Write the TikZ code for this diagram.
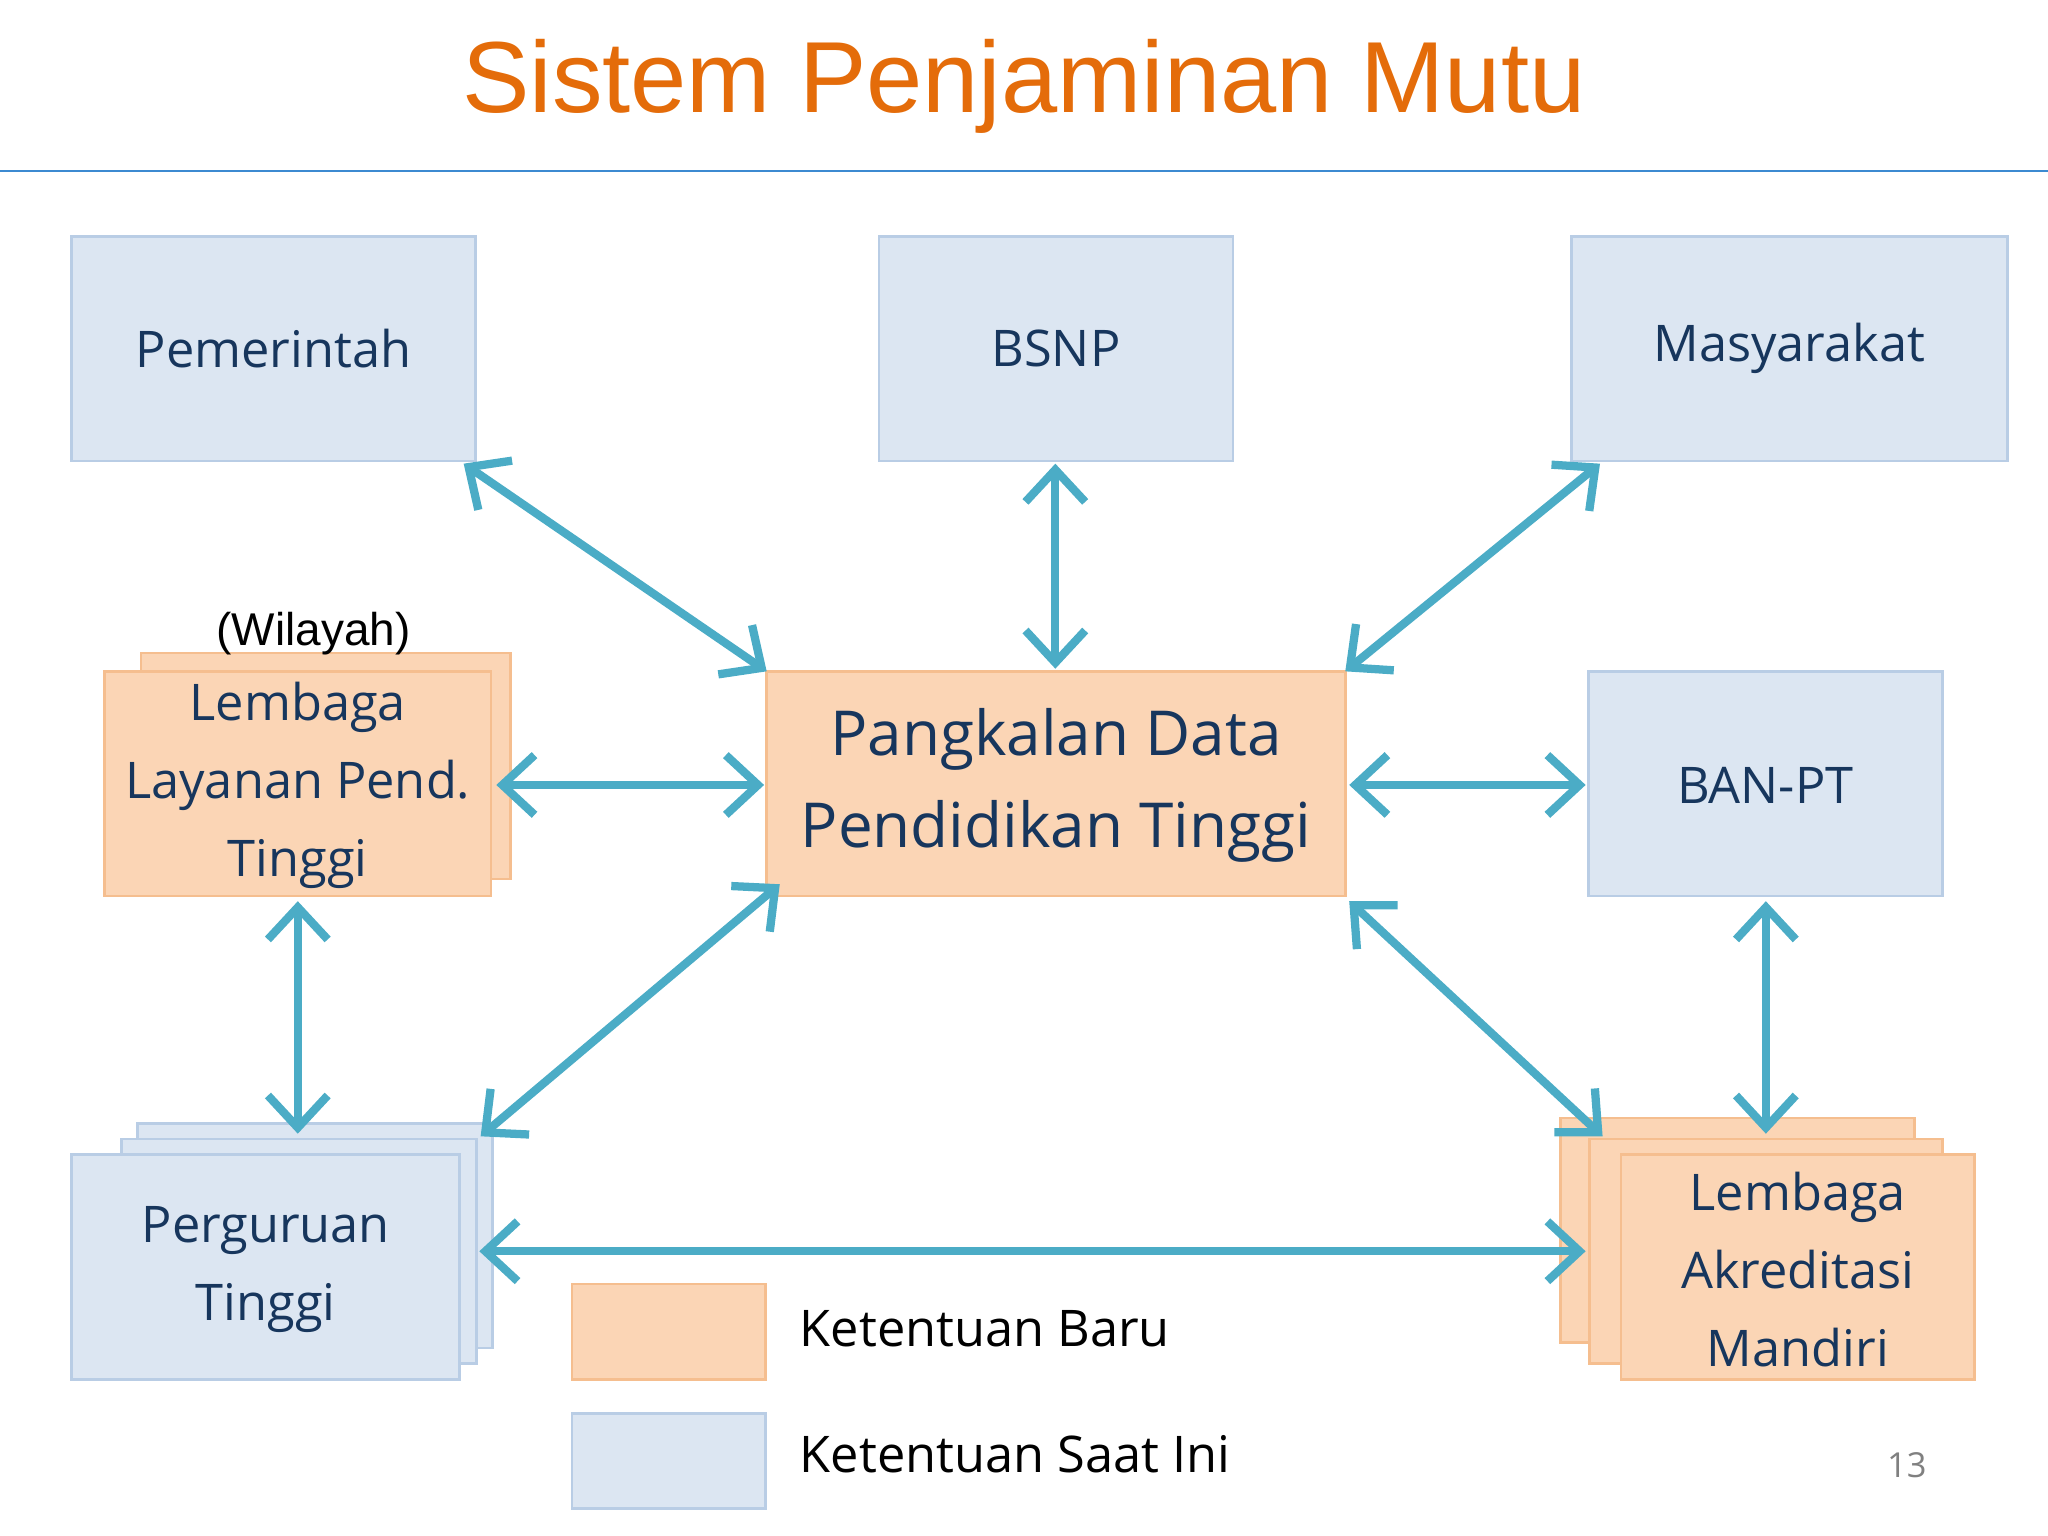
\documentclass[tikz,border=0pt]{standalone}
\usepackage{fontspec}
\setmainfont{Open Sans}
\newfontfamily\titlefont{Liberation Sans}
\usetikzlibrary{arrows.meta}
\definecolor{bfill}{HTML}{DCE6F2}
\definecolor{bdraw}{HTML}{B9CDE5}
\definecolor{ofill}{HTML}{FBD5B5}
\definecolor{odraw}{HTML}{F5BE8F}
\definecolor{arr}{HTML}{4BACC6}
\definecolor{ttl}{HTML}{E46C0A}
\definecolor{txt}{HTML}{17365D}
\tikzset{
  bbox/.style={draw=bdraw,fill=bfill,line width=0.6pt},
  obox/.style={draw=odraw,fill=ofill,line width=0.6pt},
  lbl/.style={text=txt,align=center,font=\fontsize{11}{17}\selectfont},
  conn/.style={draw=arr,line width=1.8pt,{Straight Barb[length=7pt,width=13pt,line width=1.8pt]}-{Straight Barb[length=7pt,width=13pt,line width=1.8pt]}}
}
\begin{document}
\begin{tikzpicture}[x=0.01cm,y=-0.01cm]
\useasboundingbox (0,0) rectangle (1568,1176);
\node[text=ttl,font=\titlefont\fontsize{22}{26}\selectfont] (title) at (784,66) {Sistem Penjaminan Mutu};
\draw[color=arr!80!blue,line width=0.6pt] (0,131) -- (1568,131);
% top
\draw[bbox] (55,181) rectangle (364,353); \node[lbl] (pem) at (209.5,267) {Pemerintah};
\draw[bbox] (673,181) rectangle (944,353); \node[lbl] (bsnp) at (808.5,267) {BSNP};
\draw[bbox] (1203,181) rectangle (1537,353); \node[lbl] (mas) at (1370,267) {Masyarakat};
% middle
\draw[obox] (108,500) rectangle (391,673);
\draw[obox] (80,514) rectangle (376,686);
\node[lbl] (llp) at (228,601) {Lembaga\\Layanan Pend.\\Tinggi};
\node[font=\titlefont\fontsize{10}{12}\selectfont] (wil) at (240,485) {(Wilayah)};
\draw[obox] (587,514) rectangle (1030,686);
\node[lbl,font=\fontsize{13.5}{20}\selectfont] (pd) at (808.5,601) {Pangkalan Data\\Pendidikan Tinggi};
\draw[bbox] (1216,514) rectangle (1487,686); \node[lbl] (ban) at (1351.5,601) {BAN-PT};
% bottom
\draw[bbox] (105,860) rectangle (377,1032);
\draw[bbox] (93,872) rectangle (365,1044);
\draw[bbox] (55,884) rectangle (352,1056);
\node[lbl] (pt) at (203.5,972) {Perguruan\\Tinggi};
\draw[obox] (1195,856) rectangle (1466,1028);
\draw[obox] (1217,872) rectangle (1487,1044);
\draw[obox] (1241,884) rectangle (1512,1056);
\node[lbl] (lam) at (1376.5,972) {Lembaga\\Akreditasi\\Mandiri};
% legend
\draw[obox] (438,983) rectangle (586,1056);
\node[lbl,anchor=west,text=black] (lg1) at (600,1017) {Ketentuan Baru};
\draw[bbox] (438,1082) rectangle (586,1155);
\node[lbl,anchor=west,text=black] (lg2) at (600,1113) {Ketentuan Saat Ini};
\node[text=gray,font=\fontsize{7.5}{9}\selectfont] (pg) at (1460,1122) {13};
% connector ends
\coordinate (a1) at (587,514); \coordinate (a2) at (355,355);
\coordinate (b1) at (808,512); \coordinate (b2) at (808,355);
\coordinate (c1) at (1030,514); \coordinate (c2) at (1225,355);
\coordinate (d1) at (380,601); \coordinate (d2) at (585,601);
\coordinate (e1) at (1033,601); \coordinate (e2) at (1214,601);
\coordinate (f1) at (228,690); \coordinate (f2) at (228,868);
\coordinate (g1) at (597,677); \coordinate (g2) at (368,870);
\coordinate (h1) at (1033,690); \coordinate (h2) at (1227,870);
\coordinate (i1) at (1352,690); \coordinate (i2) at (1352,868);
\coordinate (j1) at (367,958); \coordinate (j2) at (1214,958);
\foreach \p in {a,b,c,d,e,f,g,h,i,j}{\draw[conn] (\p1) -- (\p2);}
\end{tikzpicture}
\end{document}
